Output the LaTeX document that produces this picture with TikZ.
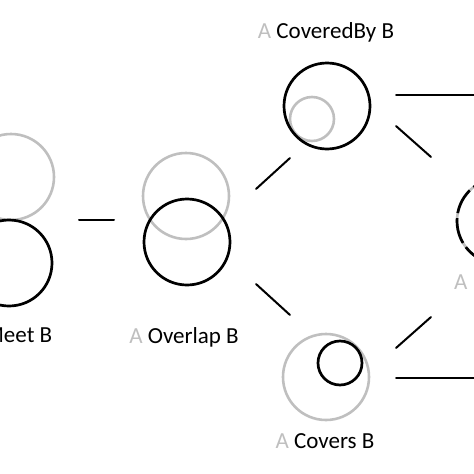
\documentclass[tikz,border=0pt]{standalone}
\usepackage{fontspec}
\setmainfont{Carlito}
\definecolor{shadegray}{RGB}{191,191,191}
\begin{document}
\begin{tikzpicture}[x=1pt, y=-1pt, line cap=round]

    % let's define some key values
    \def\rbig{43}
    \def\rsmall{22}

    % frame of the picture
    \useasboundingbox (0,0) rectangle (474,474);
    \clip (0,0) rectangle (474,474);

    % Styles
    \tikzset{
        circA/.style={line width=2.6pt, shadegray},
        circB/.style={line width=2.7pt, black},
        link/.style={line width=2pt, black},
        rel/.style={font=\fontsize{23}{28}\selectfont, anchor=base, inner sep=0pt}
    }

    % centres of the circles
    \coordinate (meetA) at (11,177);
    \coordinate (meetB) at (9,263);
    \coordinate (overlapA) at (186,196);
    \coordinate (overlapB) at (187,242);
    \coordinate (coveredbyA) at (312,119);
    \coordinate (coveredbyB) at (327,106);
    \coordinate (coversA) at (326,377);
    \coordinate (coversB) at (340,363);
    \coordinate (equalAB) at (500,221);

    % ends of the connectors
    \coordinate (mo1) at (79,220);
    \coordinate (mo2) at (114,220);
    \coordinate (oc1) at (256,189);
    \coordinate (oc2) at (290,158);
    \coordinate (ov1) at (256,284);
    \coordinate (ov2) at (290,315);
    \coordinate (ce1) at (396,95);
    \coordinate (ce2) at (474,95);
    \coordinate (cd1) at (396,126);
    \coordinate (cd2) at (431,157);
    \coordinate (se1) at (396,348);
    \coordinate (se2) at (431,317);
    \coordinate (sh1) at (396,378);
    \coordinate (sh2) at (474,378);

    % A Meet B
    \draw[circA] (meetA) circle (\rbig);
    \draw[circB] (meetB) circle (\rbig);
    \node[rel] (meetlabel) at (9,342) {\textcolor{shadegray}{A} Meet B};

    % A Overlap B
    \draw[circA] (overlapA) circle (\rbig);
    \draw[circB] (overlapB) circle (\rbig);
    \node[rel] (overlaplabel) at (184,343) {\textcolor{shadegray}{A} Overlap B};

    % A CoveredBy B
    \draw[circA] (coveredbyA) circle (\rsmall);
    \draw[circB] (coveredbyB) circle (\rbig);
    \node[rel] (coveredbylabel) at (326,38) {\textcolor{shadegray}{A} CoveredBy B};

    % A Covers B
    \draw[circA] (coversA) circle (\rbig);
    \draw[circB] (coversB) circle (\rsmall);
    \node[rel] (coverslabel) at (325,448) {\textcolor{shadegray}{A} Covers B};

    % A Equal B
    \draw[circA] (equalAB) circle (\rbig);
    \draw[circB, line cap=butt, dash pattern=on 26pt off 5pt, dash phase=12pt] (equalAB) circle (\rbig);
    \node[rel] (equallabel) at (498,289) {\textcolor{shadegray}{A} Equal B};

    % connectors
    \draw[link] (mo1) -- (mo2);
    \draw[link] (oc1) -- (oc2);
    \draw[link] (ov1) -- (ov2);
    \draw[link] (ce1) -- (ce2);
    \draw[link] (cd1) -- (cd2);
    \draw[link] (se1) -- (se2);
    \draw[link] (sh1) -- (sh2);

\end{tikzpicture}
\end{document}
